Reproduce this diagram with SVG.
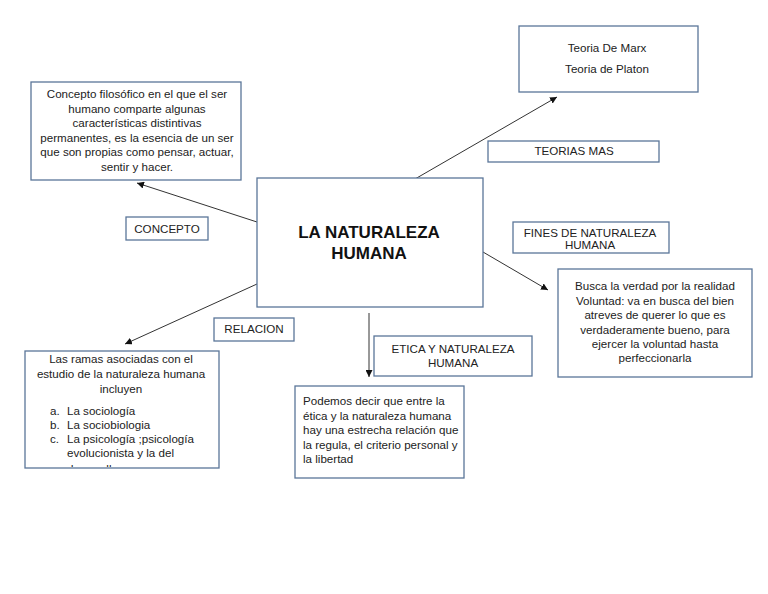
<svg xmlns="http://www.w3.org/2000/svg" width="768" height="594" viewBox="0 0 768 594">
<defs>
<marker id="ah" viewBox="0 0 10 10" refX="10" refY="5" markerWidth="7" markerHeight="7" markerUnits="userSpaceOnUse" orient="auto">
<path d="M0,0 L10,5 L0,10 z" fill="#111"/>
</marker>
<clipPath id="clipL"><rect x="25" y="351" width="194" height="116"/></clipPath>
</defs>
<style>
.box{fill:#fff;stroke:#5a7699;stroke-width:1.3}
.t{font-family:"Liberation Sans",Arial,sans-serif;font-size:11.6px;fill:#222}
.c{text-anchor:middle}
.title{font-family:"Liberation Sans",Arial,sans-serif;font-size:17px;font-weight:bold;fill:#111;text-anchor:middle}
.conn{stroke:#333;stroke-width:1;fill:none;marker-end:url(#ah)}
</style>
<rect width="768" height="594" fill="#fff"/>
<g id="connectors">
<line class="conn" x1="257" y1="222" x2="137" y2="183"/>
<line class="conn" x1="415" y1="179" x2="557" y2="97"/>
<line class="conn" x1="483" y1="252" x2="548" y2="290"/>
<line class="conn" x1="257" y1="284" x2="125" y2="344"/>
<line class="conn" x1="369" y1="313" x2="369" y2="377"/>
</g>
<g id="central">
<rect class="box" x="257" y="178" width="226" height="129"/>
<text class="title" x="369" y="238">LA NATURALEZA</text>
<text class="title" x="369" y="259">HUMANA</text>
</g>
<g id="concepto-def">
<rect class="box" x="31" y="82" width="210" height="98"/>
<text class="t c" x="137" y="98">Concepto filosófico en el que el ser</text>
<text class="t c" x="137" y="112.5">humano comparte algunas</text>
<text class="t c" x="137" y="127">características distintivas</text>
<text class="t c" x="137" y="141.5">permanentes, es la esencia de un ser</text>
<text class="t c" x="137" y="156">que son propias como pensar, actuar,</text>
<text class="t c" x="137" y="171">sentir y hacer.</text>
</g>
<g id="concepto-label">
<rect class="box" x="126" y="217" width="82" height="23"/>
<text class="t c" x="167" y="233">CONCEPTO</text>
</g>
<g id="teorias">
<rect class="box" x="519" y="26" width="179" height="66"/>
<text class="t c" x="607" y="52">Teoria De Marx</text>
<text class="t c" x="607" y="73">Teoria de Platon</text>
</g>
<g id="teorias-label">
<rect class="box" x="488" y="141" width="171" height="21"/>
<text class="t c" x="574" y="155">TEORIAS MAS</text>
</g>
<g id="fines-label">
<rect class="box" x="513" y="222" width="156" height="31"/>
<text class="t c" x="590" y="237">FINES DE NATURALEZA</text>
<text class="t c" x="590" y="249">HUMANA</text>
</g>
<g id="fines">
<rect class="box" x="558" y="269" width="194" height="108"/>
<text class="t c" x="655" y="290">Busca la verdad por la realidad</text>
<text class="t c" x="655" y="304.5">Voluntad: va en busca del bien</text>
<text class="t c" x="655" y="319">atreves de querer lo que es</text>
<text class="t c" x="655" y="333.5">verdaderamente bueno, para</text>
<text class="t c" x="655" y="348">ejercer la voluntad hasta</text>
<text class="t c" x="655" y="362">perfeccionarla</text>
</g>
<g id="relacion-label">
<rect class="box" x="214" y="318" width="80" height="23"/>
<text class="t c" x="254" y="333">RELACION</text>
</g>
<g id="relacion">
<rect class="box" x="25" y="351" width="194" height="117"/>
<text class="t c" x="121" y="363">Las ramas asociadas con el</text>
<text class="t c" x="121" y="378">estudio de la naturaleza humana</text>
<text class="t c" x="121" y="393">incluyen</text>
<text class="t" x="50" y="415">a.</text>
<text class="t" x="67" y="415">La sociología</text>
<text class="t" x="50" y="429">b.</text>
<text class="t" x="67" y="429">La sociobiologia</text>
<text class="t" x="50" y="443">c.</text>
<text class="t" x="67" y="443">La psicología ;psicología</text>
<text class="t" x="67" y="457">evolucionista y la del</text>
<text class="t" x="67" y="473" clip-path="url(#clipL)">desarrollo</text>
</g>
<g id="etica-label">
<rect class="box" x="374" y="336" width="158" height="40"/>
<text class="t c" x="453" y="353">ETICA Y NATURALEZA</text>
<text class="t c" x="453" y="367">HUMANA</text>
</g>
<g id="etica">
<rect class="box" x="295" y="386" width="169" height="92"/>
<text class="t" x="303" y="405">Podemos decir que entre la</text>
<text class="t" x="303" y="419.5">ética y la naturaleza humana</text>
<text class="t" x="303" y="434">hay una estrecha relación que</text>
<text class="t" x="303" y="448.5">la regula, el criterio personal y</text>
<text class="t" x="303" y="463">la libertad</text>
</g>
</svg>
